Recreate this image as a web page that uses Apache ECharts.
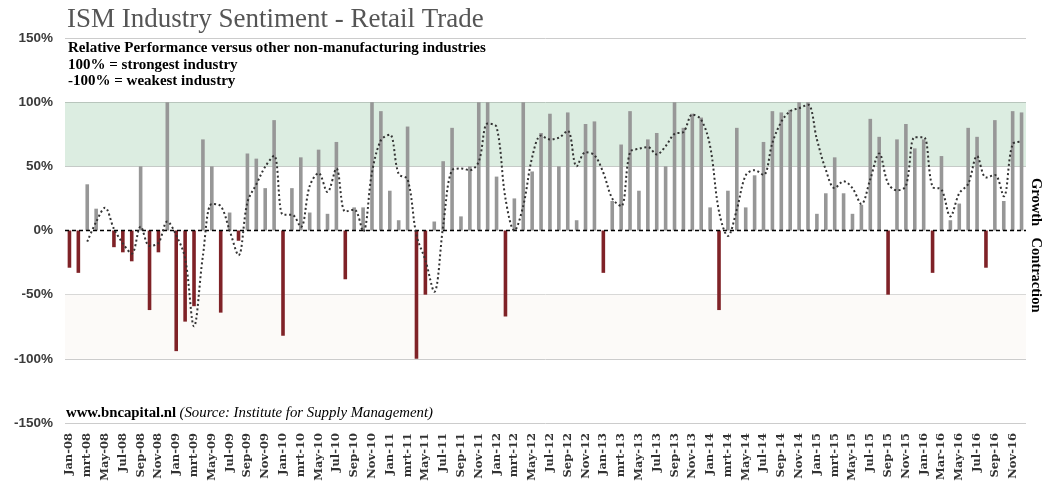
<!DOCTYPE html>
<html><head><meta charset="utf-8">
<script src="https://cdn.jsdelivr.net/npm/echarts@6/dist/echarts.min.js"></script>
<style>html,body{margin:0;padding:0;background:#fff}#c{width:1045px;height:495px}</style>
</head><body><div id="c"></div>
<script>
var months = ['Jan','Feb','mrt','Apr','May','Jun','Jul','Aug','Sep','Oct','Nov','Dec'];
var years = ['08','09','10','11','12','13','14','15','16'];
var categories = [];
years.forEach(function(y){ months.forEach(function(m){ categories.push((m==='mrt' && y==='16' ? 'Mar' : m) + '-' + y); }); });

var sentiment = [
 -29,-33,36,17,0,-13,-17,-24,50,-62,-17,100,
 -94,-71,-59,71,50,-64,14,-8,60,56,33,86,
 -82,33,57,14,63,13,69,-38,18,18,100,93,
 31,8,81,-100,-50,7,54,80,11,50,100,100,
 42,-67,25,100,46,76,91,50,92,8,83,85,
 -33,23,67,93,31,71,76,50,100,80,91,88,
 18,-62,31,80,18,43,69,93,92,94,100,100,
 13,29,57,29,13,20,87,73,-50,71,83,64,
 71,-33,58,8,21,80,73,-29,86,23,93,92
];
var trend = [
 null,null,-8.7,6.7,17.7,1.3,-10,-18,3,-12,-9.7,7,
 -3.7,-21.7,-74.7,-19.7,20.7,19,0,-19.3,22,36,49.7,58.3,
 12.3,12.3,2.7,34.7,44.7,30,48.3,14.7,16.3,-0.7,45.3,70.3,
 74.7,44,40,-3.7,-23,-47.7,3.7,47,48.3,47,53.7,83.3,
 80.7,25,0,19.3,57,74,71,72.3,77.7,50,61,58.7,
 45,25,19,61,63.7,65,59.3,65.7,75.3,76.7,90.3,86.3,
 65.7,14.7,-4.3,16.3,43,47,43.3,68.3,84.7,93,95.3,98,
 71,47.3,33,38.3,33,20.7,40,60,36.7,31.3,34.7,72.7,
 72.7,34,32,11,29,36.3,58,41.3,43.3,26.7,67.3,69.3
];
var yTicks = [-150,-100,-50,0,50,100,150];

var chart = echarts.init(document.getElementById('c'));
var serif = '"DejaVu Serif", serif';
var lserif = '"Liberation Serif", serif';
chart.setOption({
  animation: false,
  grid: {left: 65, right: 19, top: 38, bottom: 72},
  xAxis: {
    type: 'category', data: categories,
    axisLine: {show: false}, axisTick: {show: false},
    axisLabel: {interval: 1, rotate: 90, fontFamily: serif, fontWeight: 'bold', fontSize: 11.5, color: '#333', margin: 10}
  },
  yAxis: {
    type: 'value', min: yTicks[0], max: yTicks[yTicks.length-1], interval: 50,
    axisLine: {show: false}, axisTick: {show: false},
    axisLabel: {formatter: '{value}%', fontFamily: '"Liberation Sans", Arial, sans-serif', fontWeight: 'bold', fontSize: 13.5, color: '#3a3a3a', margin: 12},
    splitLine: {lineStyle: {color: ['#cccccc','#cccccc','#cccccc','rgba(0,0,0,0)','#cccccc','#cccccc','#cccccc'], width: 1}}
  },
  series: [
    {
      type: 'bar', data: sentiment, barWidth: 3.6, z: 2,
      itemStyle: {color: function(p){ return p.value >= 0 ? '#979797' : '#7f2227'; }},
      markArea: {silent: true, itemStyle: {color: '#fcfaf8'}, data: [[{yAxis: -100}, {yAxis: -50}]]}
    },
    {
      type: 'line', data: [], z: 5,
      markArea: {silent: true, itemStyle: {color: 'rgba(60,155,88,0.18)'}, data: [[{yAxis: 50}, {yAxis: 100}]]}
    },
    {
      type: 'line', data: trend, smooth: 0.35, symbol: 'none', z: 10, connectNulls: false,
      lineStyle: {color: '#333', width: 2, type: [2, 2.6]},
      markLine: {silent: true, symbol: 'none', label: {show: false},
        lineStyle: {color: '#000', width: 1.3, type: [4, 3]}, data: [{yAxis: 0}]}
    }
  ],
  graphic: [
    {type: 'text', left: 67, top: 6, style: {text: 'ISM Industry Sentiment - Retail Trade', font: '27px ' + lserif, fill: '#555'}},
    {type: 'text', left: 68, top: 40, style: {text: 'Relative Performance versus other non-manufacturing industries\n100% = strongest industry\n-100% = weakest industry', font: 'bold 15px ' + lserif, fill: '#000', lineHeight: 16.5}},
    {type: 'text', left: 66, top: 406, style: {text: '{b|www.bncapital.nl} {i|(Source: Institute for Supply Management)}',
      rich: {b: {font: 'bold 14.8px ' + lserif, fill: '#000'}, i: {font: 'italic 14.8px ' + lserif, fill: '#000'}}}},
    {type: 'text', x: 1036, y: 202, rotation: -Math.PI/2, style: {text: 'Growth', font: 'bold 14.5px ' + lserif, fill: '#000', align: 'center', verticalAlign: 'middle'}},
    {type: 'text', x: 1036, y: 275, rotation: -Math.PI/2, style: {text: 'Contraction', font: 'bold 14.5px ' + lserif, fill: '#000', align: 'center', verticalAlign: 'middle'}}
  ]
});
</script></body></html>
